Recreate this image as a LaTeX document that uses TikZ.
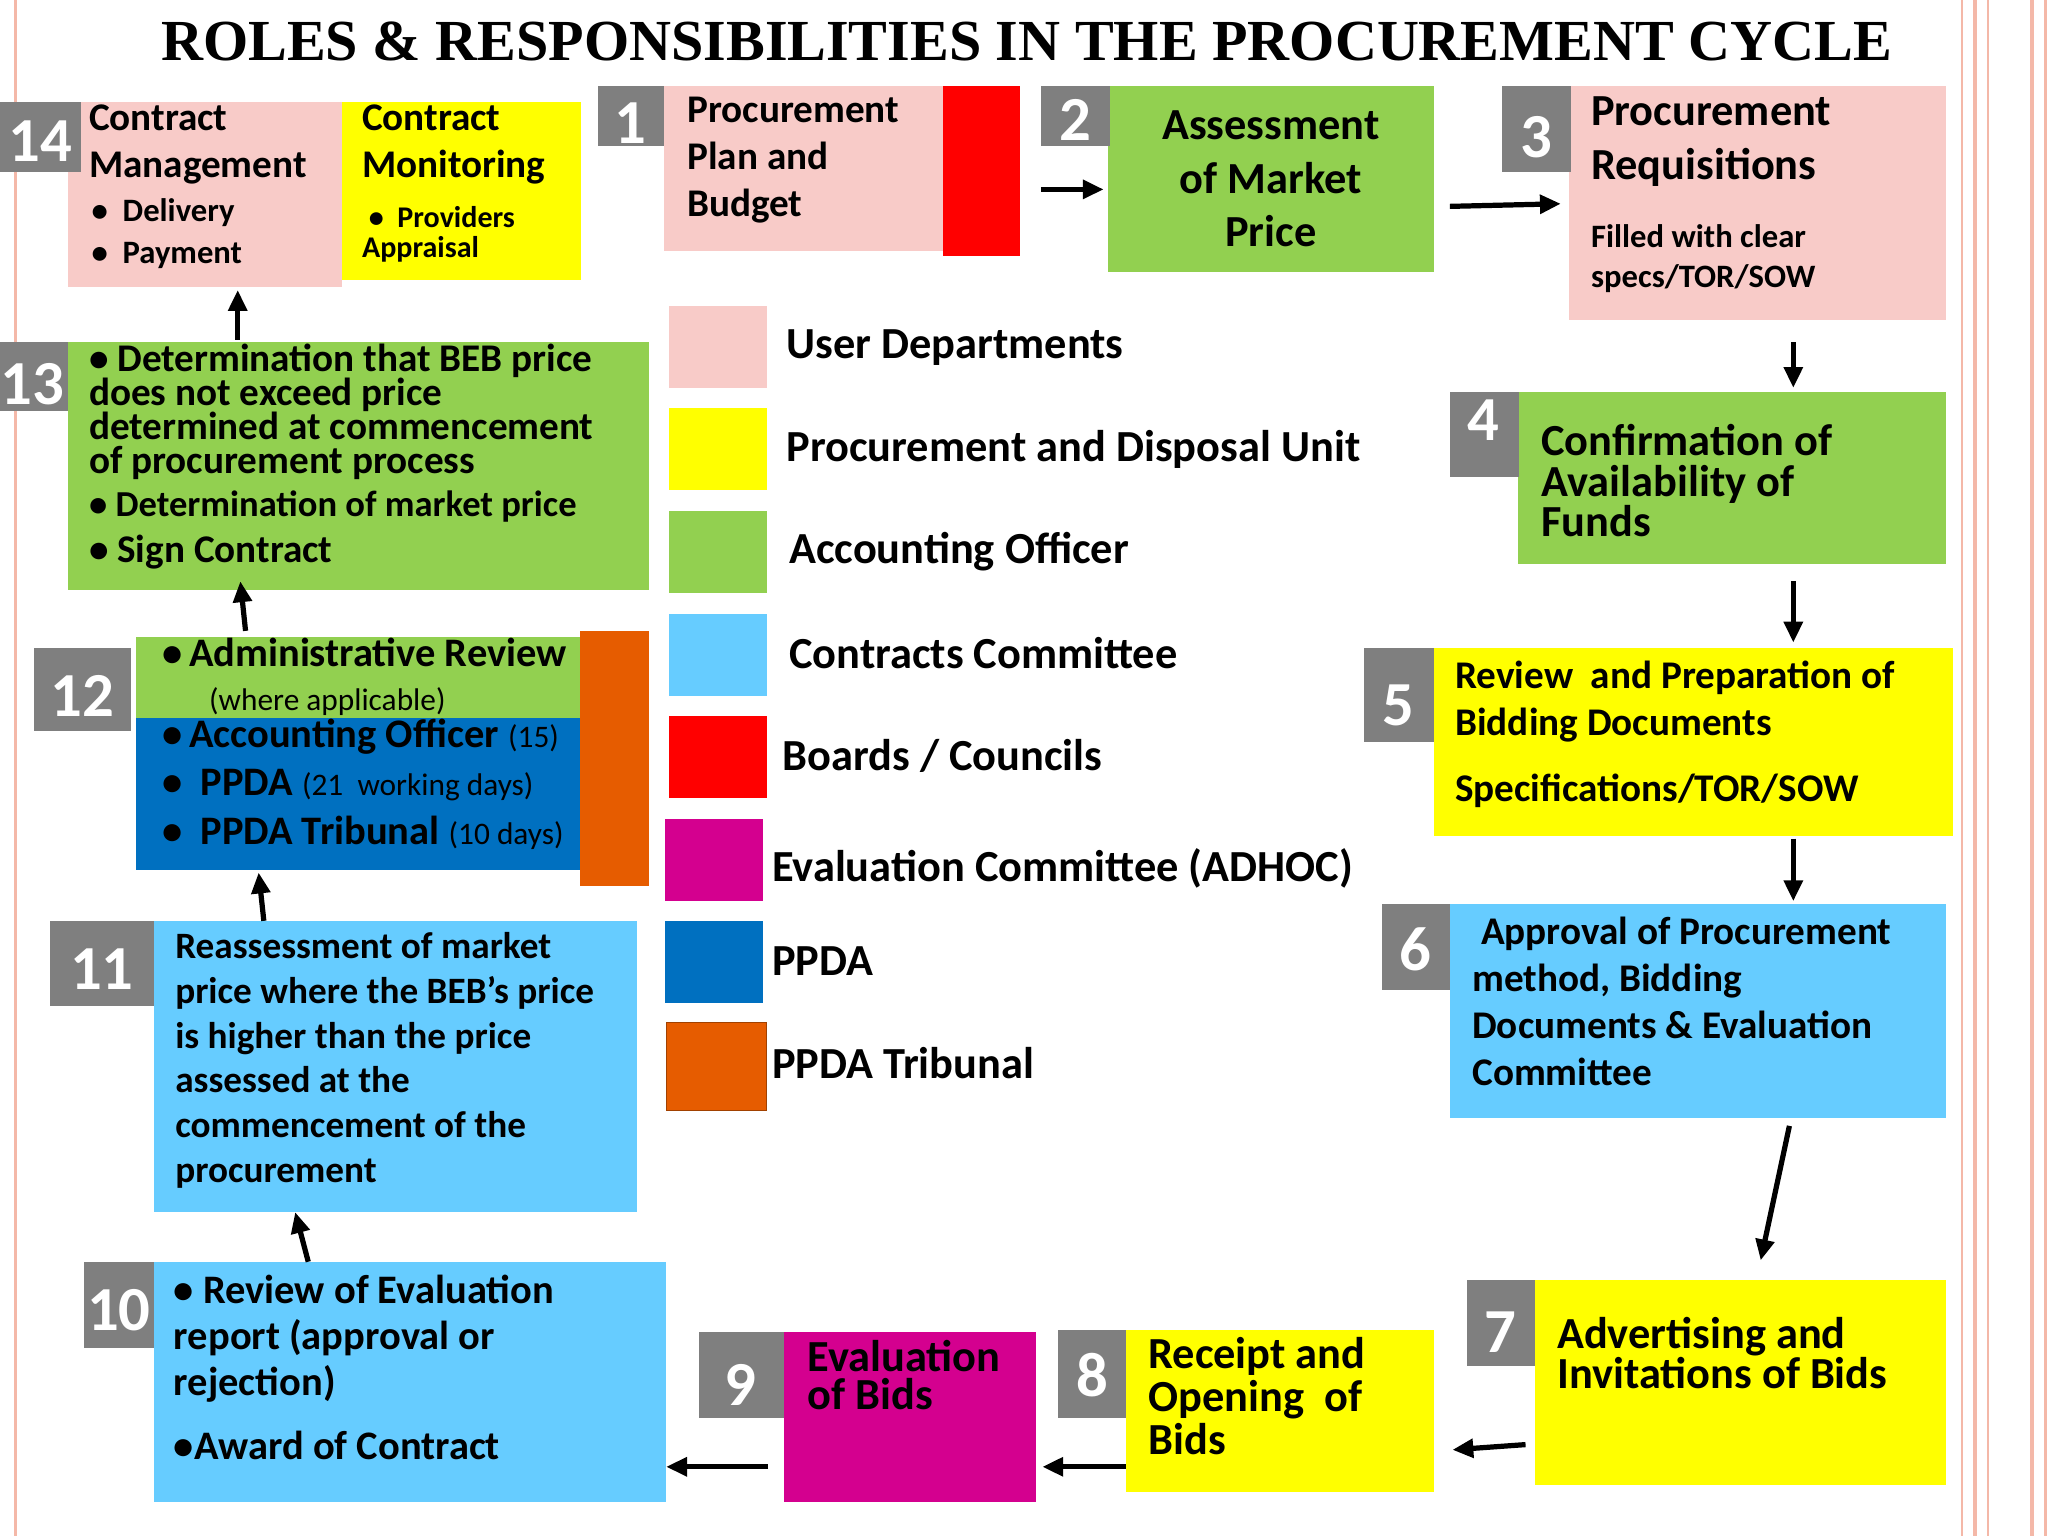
\documentclass[tikz,border=0pt]{standalone}
\usepackage{fontspec}
\setmainfont{Carlito}
\newfontfamily\titlefont{Liberation Serif}
\usetikzlibrary{arrows.meta}
\definecolor{cpink}{HTML}{F8CBC8}
\definecolor{cyel}{HTML}{FFFF00}
\definecolor{cgreen}{HTML}{92D050}
\definecolor{clblue}{HTML}{66CCFF}
\definecolor{cred}{HTML}{FF0000}
\definecolor{cmag}{HTML}{D4008F}
\definecolor{cblue}{HTML}{0070C0}
\definecolor{corange}{HTML}{E65C00}
\definecolor{cgray}{HTML}{7F7F7F}
\definecolor{cline}{HTML}{F4B8A8}
\newcommand{\fs}[1]{\fontsize{#1}{\dimexpr #1pt*6/5\relax}\selectfont}
\newcommand{\bx}[6]{\fill[#6] (#2,#3) rectangle (#4,#5); \coordinate (#1) at (#2,#3);}
\tikzset{
 num/.style={anchor=center,text=white,font=\fs{48}\bfseries},
 txt/.style={anchor=north west,align=left,inner sep=0pt,font=\bfseries},
 arr/.style={-{Triangle[length=16pt,width=14pt]},line width=4pt,black},
 leg/.style={anchor=west,font=\fs{34}\bfseries,inner sep=0pt}
}
\begin{document}
\begin{tikzpicture}[x=1pt,y=-1pt]
\useasboundingbox (0,0) rectangle (1568,1176);
\fill[white] (0,0) rectangle (1568,1176);
\foreach \x/\w in {12/2,1502/2,1512/3,1522/2,1556/3,1566/2}{\draw[cline,line width=\w pt] (\x,0) -- (\x,1176);}
\node[font=\titlefont\fs{44.5}\bfseries,anchor=center] (title) at (786,32) {ROLES \& RESPONSIBILITIES IN THE PROCUREMENT CYCLE};
% 14
\bx{b14}{52}{78}{262}{220}{cpink}
\bx{b14y}{262}{78}{445}{214}{cyel}
\fill[cgray] (0,78) rectangle (62,132); \node[num] (n14) at (31,108) {14};
\node[txt,font=\fs{30}\bfseries] (t14) at (68,80) {Contract\\Management};
\node[txt,font=\fs{25}\bfseries] (t14b) at (70,152) {\textbullet\ \ Delivery\\[2pt]\textbullet\ \ Payment};
\node[txt,font=\fs{30}\bfseries] (t14y) at (277,80) {Contract\\Monitoring};
\node[txt,font=\fs{23}\bfseries] (t14yb) at (277,158) {\ \textbullet\ \ Providers\\[-5pt]Appraisal};
% 1
\bx{b1}{508}{66}{722}{192}{cpink}
\bx{b1r}{722}{66}{781}{196}{cred}
\fill[cgray] (458,66) rectangle (508,112); \node[num] (n1) at (483,94) {1};
\node[txt,font=\fs{30}\bfseries] (t1) at (526,74) {Procurement\\Plan and\\Budget};
% 2
\bx{b2}{848}{66}{1098}{208}{cgreen}
\fill[cgray] (797,66) rectangle (850,112); \node[num] (n2) at (823,92) {2};
\node[font=\fs{34}\bfseries,align=center,anchor=center] (t2) at (973,137) {Assessment\\of Market\\Price};
% 3
\bx{b3}{1201}{66}{1490}{245}{cpink}
\fill[cgray] (1150,66) rectangle (1203,132); \node[num] (n3) at (1176,105) {3};
\node[txt,font=\fs{34}\bfseries] (t3) at (1218,74) {Procurement\\Requisitions};
\node[txt,font=\fs{25}\bfseries] (t3b) at (1218,172) {Filled with clear\\specs/TOR/SOW};
% 4
\bx{b4}{1162}{300}{1490}{432}{cgreen}
\fill[cgray] (1110,300) rectangle (1163,365); \node[num] (n4) at (1136,322) {4};
\node[txt,font=\fs{34}\bfseries,align=left] (t4) at (1180,325) {Confirmation of\\[-10pt]Availability of\\[-10pt]Funds};
% 5
\bx{b5}{1098}{496}{1495}{640}{cyel}
\fill[cgray] (1044,496) rectangle (1098,568); \node[num] (n5) at (1071,540) {5};
\node[txt,font=\fs{30}\bfseries] (t5) at (1114,506) {Review\ \ and Preparation of\\Bidding Documents\\[14pt]Specifications/TOR/SOW};
% 6
\bx{b6}{1110}{692}{1490}{856}{clblue}
\fill[cgray] (1058,692) rectangle (1110,758); \node[num] (n6) at (1084,727) {6};
\node[txt,font=\fs{30}\bfseries] (t6) at (1127,702) {\ Approval of Procurement\\method, Bidding\\Documents \& Evaluation\\Committee};
% 7
\bx{b7}{1175}{980}{1490}{1137}{cyel}
\fill[cgray] (1123,980) rectangle (1175,1046); \node[num] (n7) at (1149,1020) {7};
\node[txt,font=\fs{34}\bfseries] (t7) at (1192,1008) {Advertising and\\[-10pt]Invitations of Bids};
% 8
\bx{b8}{862}{1018}{1098}{1142}{cyel}
\fill[cgray] (810,1018) rectangle (862,1086); \node[num] (n8) at (836,1053) {8};
\node[txt,font=\fs{34}\bfseries] (t8) at (879,1024) {Receipt and\\[-8pt]Opening\ \ of\\[-8pt]Bids};
% 9
\bx{b9}{600}{1020}{793}{1150}{cmag}
\fill[cgray] (535,1020) rectangle (600,1086); \node[num] (n9) at (567,1060) {9};
\node[txt,font=\fs{34}\bfseries] (t9) at (618,1026) {Evaluation\\[-12pt]of Bids};
% 10
\bx{b10}{118}{966}{510}{1150}{clblue}
\fill[cgray] (64,966) rectangle (118,1032); \node[num] (n10) at (91,1003) {10};
\node[txt,font=\fs{31}\bfseries] (t10) at (133,976) {\textbullet\ Review of Evaluation\\[-2pt]report (approval or\\[-2pt]rejection)\\[12pt]\textbullet Award of Contract};
% 11
\bx{b11}{118}{705}{488}{928}{clblue}
\fill[cgray] (38,705) rectangle (118,770); \node[num] (n11) at (78,742) {11};
\node[txt,font=\fs{28.5}\bfseries] (t11) at (134,714) {Reassessment of market\\price where the BEB's price\\is higher than the price\\assessed at the\\commencement of the\\procurement};
% 12
\bx{b12g}{104}{488}{444}{550}{cgreen}
\bx{b12b}{104}{550}{444}{666}{cblue}
\bx{b12o}{444}{483}{497}{678}{corange}
\fill[cgray] (26,496) rectangle (100,560); \node[num] (n12) at (63,533) {12};
\node[txt,font=\fs{31}\bfseries] (t12a) at (124,488) {\textbullet\,Administrative Review};
\node[txt,font=\fs{24}] (t12b) at (160,526) {(where applicable)};
\node[txt,font=\fs{31}\bfseries,text=black] (t12c) at (124,550) {\textbullet\,Accounting Officer {\fs{24}\mdseries(15)}\\[0pt]\textbullet\ \ PPDA {\fs{24}\mdseries(21\ \ working days)}\\[0pt]\textbullet\ \ PPDA Tribunal {\fs{24}\mdseries(10 days)}};
% 13
\bx{b13}{52}{262}{497}{452}{cgreen}
\fill[cgray] (0,262) rectangle (52,315); \node[num] (n13) at (25,294) {13};
\node[txt,font=\fs{30}\bfseries] (t13) at (68,263) {\textbullet\ Determination that BEB price\\[-10pt]does not exceed price\\[-10pt]determined at commencement\\[-10pt]of procurement process\\[-3pt]{\fs{28}\textbullet\ Determination of market price}\\[-1pt]\textbullet\ Sign Contract};
% arrows
\coordinate (a1s) at (797,145); \coordinate (a1e) at (845,145);
\draw[arr] (a1s) -- (a1e);
\coordinate (a2s) at (1110,158); \coordinate (a2e) at (1195,156);
\draw[arr] (a2s) -- (a2e);
\coordinate (a3s) at (1373,262); \coordinate (a3e) at (1373,297);
\draw[arr] (a3s) -- (a3e);
\coordinate (a4s) at (1373,445); \coordinate (a4e) at (1373,492);
\draw[arr] (a4s) -- (a4e);
\coordinate (a5s) at (1373,642); \coordinate (a5e) at (1373,690);
\draw[arr] (a5s) -- (a5e);
\coordinate (a6s) at (1370,862); \coordinate (a6e) at (1348,965);
\draw[arr] (a6s) -- (a6e);
\coordinate (a7s) at (1168,1106); \coordinate (a7e) at (1112,1110);
\draw[arr] (a7s) -- (a7e);
\coordinate (a8s) at (862,1123); \coordinate (a8e) at (798,1123);
\draw[arr] (a8s) -- (a8e);
\coordinate (a9s) at (588,1123); \coordinate (a9e) at (510,1123);
\draw[arr] (a9s) -- (a9e);
\coordinate (a10s) at (236,966); \coordinate (a10e) at (226,928);
\draw[arr] (a10s) -- (a10e);
\coordinate (a11s) at (202,705); \coordinate (a11e) at (198,668);
\draw[arr] (a11s) -- (a11e);
\coordinate (a12s) at (188,483); \coordinate (a12e) at (184,445);
\draw[arr] (a12s) -- (a12e);
\coordinate (a13s) at (182,260); \coordinate (a13e) at (182,222);
\draw[arr] (a13s) -- (a13e);
% legend
\fill[cpink] (512,234) rectangle (587,297);
\fill[cyel] (512,312) rectangle (587,375);
\fill[cgreen] (512,391) rectangle (587,454);
\fill[clblue] (512,470) rectangle (587,533);
\fill[cred] (512,548) rectangle (587,611);
\fill[cmag] (509,627) rectangle (584,690);
\fill[cblue] (509,705) rectangle (584,768);
\fill[corange] (510,783) rectangle (587,850);
\draw[corange!70!black,line width=0.8pt] (510,783) rectangle (587,850);
\node[leg] (l1) at (602,266) {User Departments};
\node[leg] (l2) at (602,344) {Procurement and Disposal Unit};
\node[leg] (l3) at (604,422) {Accounting Officer};
\node[leg] (l4) at (604,500) {Contracts Committee};
\node[leg] (l5) at (599,579) {Boards / Councils};
\node[leg] (l6) at (591,665) {Evaluation Committee (ADHOC)};
\node[leg] (l7) at (591,736) {PPDA};
\node[leg] (l8) at (591,814) {PPDA Tribunal};
\end{tikzpicture}
\end{document}
